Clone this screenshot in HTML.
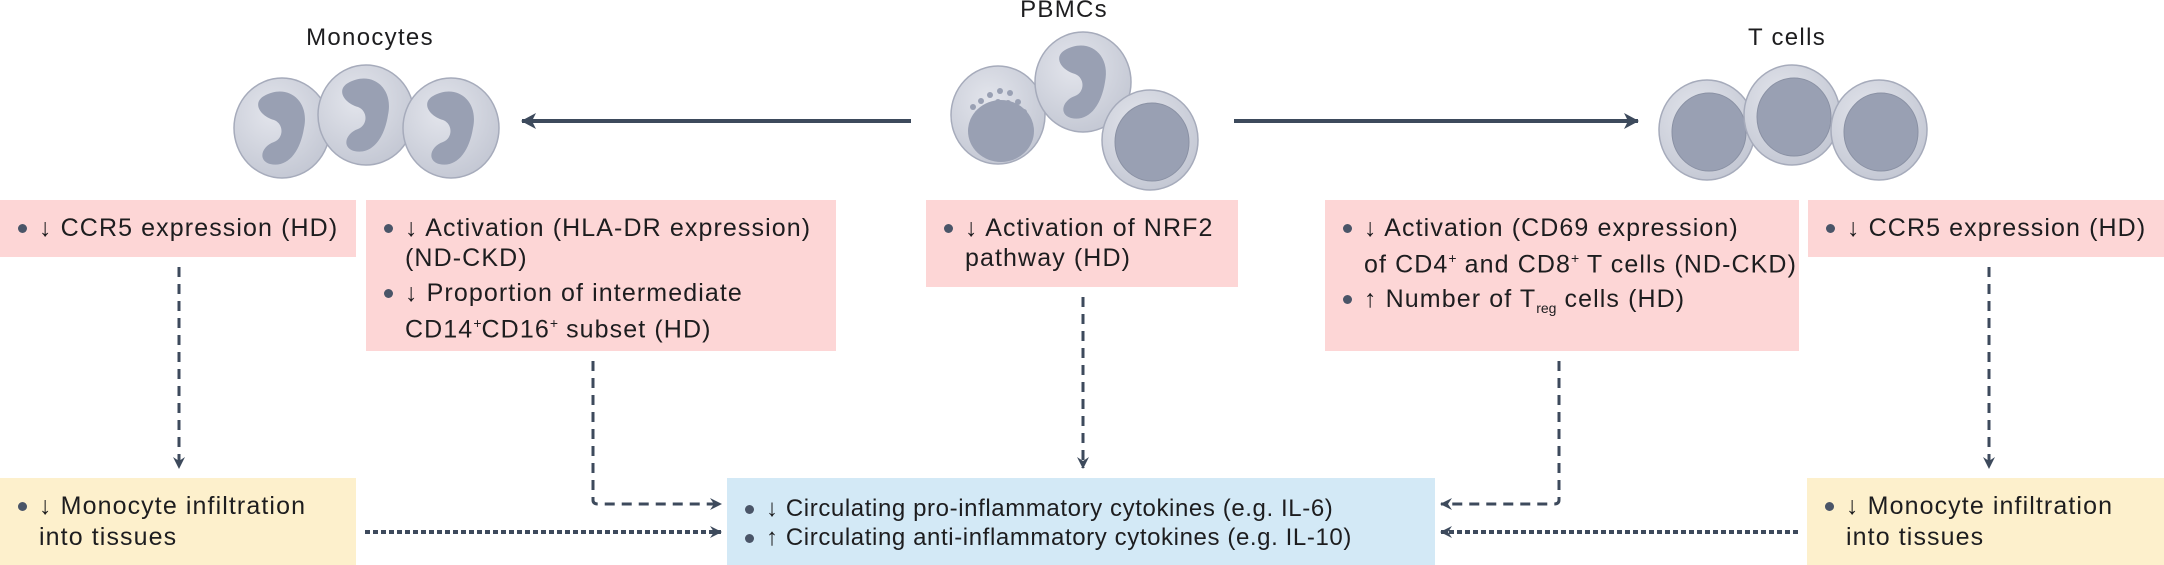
<!DOCTYPE html>
<html><head><meta charset="utf-8"><style>
body{margin:0;width:2164px;height:565px;position:relative;background:#fff;font-family:"Liberation Sans",sans-serif;color:#1d1d1f;overflow:hidden}
.b{position:absolute;font-size:25px;line-height:30px;padding-top:13px;box-sizing:border-box;letter-spacing:1.1px;white-space:nowrap}
.p{background:#fdd6d6}.y{background:#fdf0cc}.c{background:#d3e9f6}
.l{position:relative;padding-left:39px}
.l:before{content:"";position:absolute;left:18px;top:11px;width:9px;height:9px;border-radius:50%;background:#4a5568}
.t{position:absolute;font-size:24px;letter-spacing:1.3px;transform:translateX(-50%)}
sup,sub{font-size:14px;letter-spacing:0}
</style></head><body>
<div class="t" style="left:370px;top:24px">Monocytes</div>
<div class="t" style="left:1064px;top:-4px">PBMCs</div>
<div class="t" style="left:1787px;top:24px">T cells</div>

<svg width="2164" height="565" style="position:absolute;left:0;top:0">
<defs>
<radialGradient id="g" cx="40%" cy="35%" r="70%"><stop offset="0" stop-color="#e3e5ec"/><stop offset="1" stop-color="#c3c7d3"/></radialGradient>
<g id="mono"><ellipse rx="48" ry="50" fill="url(#g)" stroke="#a6abbb" stroke-width="1.5"/><path d="M-18,-32 C5,-45 28,-28 22,0 C18,25 5,40 -12,36 C-25,32 -20,18 -8,14 C2,10 2,-4 -8,-8 C-22,-12 -30,-25 -18,-32Z" fill="#99a0b3"/></g>
<g id="lym"><ellipse rx="48" ry="50" fill="url(#g)" stroke="#a6abbb" stroke-width="1.5"/><ellipse cx="2" cy="2" rx="37" ry="39" fill="#99a0b3" stroke="#8a91a4"/></g>
<marker id="a" markerWidth="14" markerHeight="14" refX="11" refY="7" orient="auto" markerUnits="userSpaceOnUse"><path d="M0,1 L12,7 L0,13 L4,7Z" fill="#3d4a5c"/></marker>
<marker id="A" markerWidth="16" markerHeight="16" refX="14" refY="8" orient="auto" markerUnits="userSpaceOnUse"><path d="M0,0 L15,8 L0,16 L4,8Z" fill="#3d4a5c"/></marker>
</defs>
<use href="#mono" x="282" y="128"/><use href="#mono" x="366" y="115"/><use href="#mono" x="451" y="128"/>
<use href="#lym" x="1707" y="130"/><use href="#lym" x="1792" y="115"/><use href="#lym" x="1879" y="130"/>
<g transform="translate(998,115)"><ellipse rx="47" ry="49" fill="url(#g)" stroke="#a6abbb" stroke-width="1.5"/><ellipse cx="3" cy="16" rx="33" ry="31" fill="#99a0b3"/>
<g fill="#99a0b3"><circle cx="-25" cy="-8" r="3"/><circle cx="-17" cy="-14" r="3"/><circle cx="-8" cy="-20" r="3"/><circle cx="2" cy="-24" r="3"/><circle cx="12" cy="-22" r="3"/><circle cx="-20" cy="-2" r="3"/><circle cx="-10" cy="-8" r="3"/><circle cx="0" cy="-13" r="3"/><circle cx="10" cy="-12" r="3"/><circle cx="20" cy="-13" r="3"/><circle cx="-2" cy="-3" r="3"/><circle cx="8" cy="-5" r="3"/><circle cx="18" cy="-5" r="3"/><circle cx="26" cy="-3" r="3"/></g></g>
<g transform="translate(1083,82)"><use href="#mono"/></g>
<g transform="translate(1150,140)"><use href="#lym"/></g>
<g stroke="#3d4a5c" stroke-width="4"><line x1="911" y1="121" x2="522" y2="121" marker-end="url(#A)"/><line x1="1234" y1="121" x2="1638" y2="121" marker-end="url(#A)"/></g>
<g stroke="#3d4a5c" stroke-width="3" fill="none" stroke-dasharray="10 7">
<line x1="179" y1="267" x2="179" y2="468" marker-end="url(#a)"/>
<line x1="1083" y1="297" x2="1083" y2="468" marker-end="url(#a)"/>
<line x1="1989" y1="267" x2="1989" y2="468" marker-end="url(#a)"/>
<path d="M593,361 V500 Q593,504 598,504 H721" marker-end="url(#a)"/>
<path d="M1559,361 V500 Q1559,504 1554,504 H1441" marker-end="url(#a)"/>
</g>
<g stroke="#3d4a5c" stroke-width="4" fill="none" stroke-dasharray="5 3">
<line x1="365" y1="532" x2="721" y2="532" marker-end="url(#a)"/>
<line x1="1798" y1="532" x2="1441" y2="532" marker-end="url(#a)"/>
</g>
</svg>

<div class="b p" style="left:0;top:200px;width:356px;height:57px"><div class="l">↓ CCR5 expression (HD)</div></div>
<div class="b p" style="left:366px;top:200px;width:470px;height:151px"><div class="l">↓ Activation (HLA-DR expression)<br>(ND-CKD)</div><div class="l" style="margin-top:5px">↓ Proportion of intermediate<br>CD14<sup>+</sup>CD16<sup>+</sup> subset (HD)</div></div>
<div class="b p" style="left:926px;top:200px;width:312px;height:87px"><div class="l">↓ Activation of NRF2<br>pathway (HD)</div></div>
<div class="b p" style="left:1325px;top:200px;width:474px;height:151px"><div class="l">↓ Activation (CD69 expression)<br>of CD4<sup>+</sup> and CD8<sup>+</sup> T cells (ND-CKD)</div><div class="l" style="margin-top:5px">↑ Number of T<sub>reg</sub> cells (HD)</div></div>
<div class="b p" style="left:1808px;top:200px;width:356px;height:57px"><div class="l">↓ CCR5 expression (HD)</div></div>

<div class="b y" style="left:0;top:478px;width:356px;height:87px;padding-top:13px;line-height:31px"><div class="l">↓ Monocyte infiltration<br>into tissues</div></div>
<div class="b c" style="left:727px;top:478px;width:708px;height:87px;padding-top:16px;line-height:29px;font-size:24px;letter-spacing:0.6px"><div class="l">↓ Circulating pro-inflammatory cytokines (e.g. IL-6)</div><div class="l">↑ Circulating anti-inflammatory cytokines (e.g. IL-10)</div></div>
<div class="b y" style="left:1807px;top:478px;width:357px;height:87px;padding-top:13px;line-height:31px"><div class="l">↓ Monocyte infiltration<br>into tissues</div></div>
</body></html>
